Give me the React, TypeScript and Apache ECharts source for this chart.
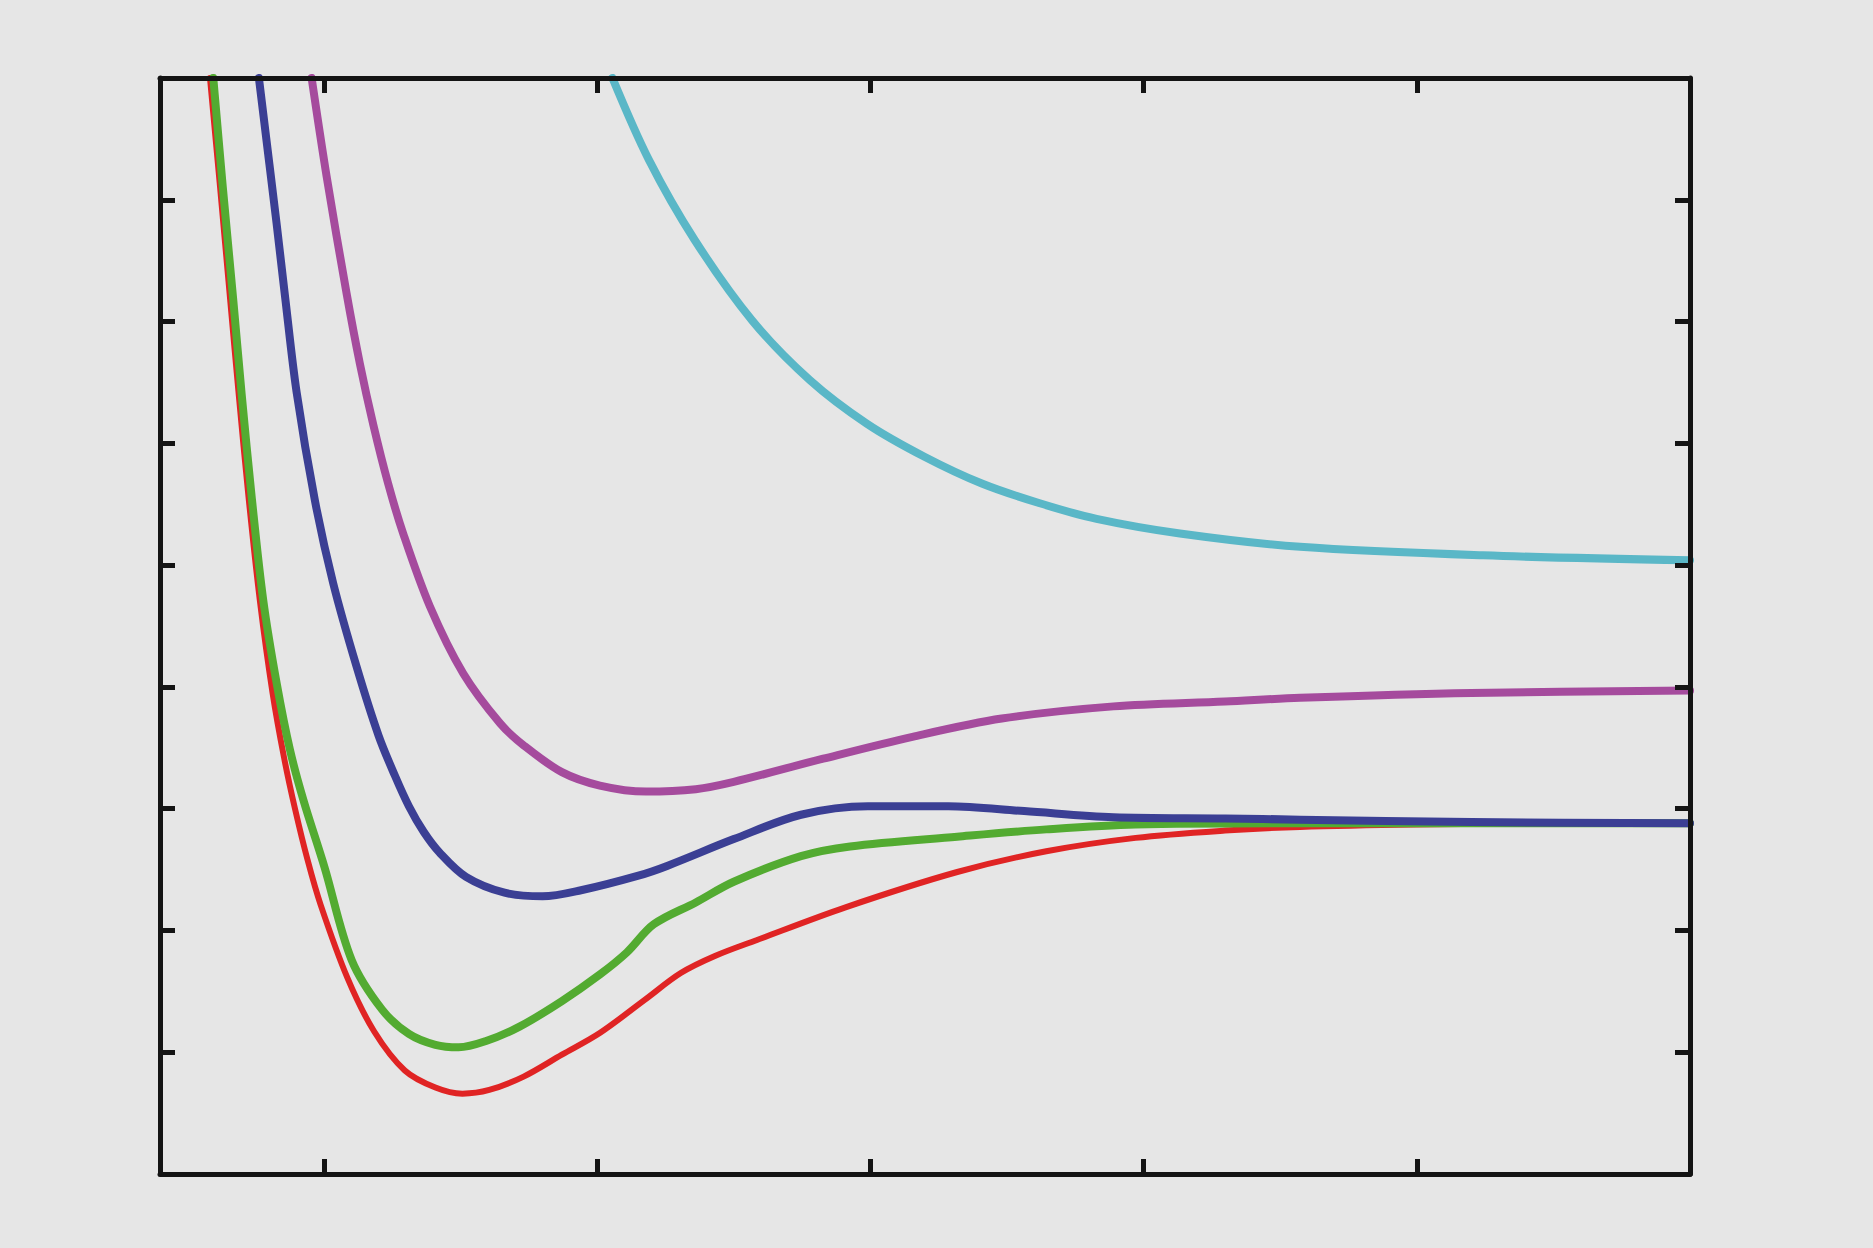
import React, { useEffect, useRef } from "react";
import * as echarts from "echarts";

const xTicks = [1, 2, 3, 4, 5];

const redCurve: number[][] = [
  [0.583, 9.0], [0.62, 8.1], [0.656, 7.2], [0.689, 6.38], [0.724, 5.56], [0.766, 4.7],
  [0.812, 3.95], [0.854, 3.42], [0.894, 3.0], [0.94, 2.58], [0.988, 2.21], [1.086, 1.61],
  [1.184, 1.17], [1.296, 0.85], [1.408, 0.71], [1.507, 0.66], [1.605, 0.69], [1.731, 0.8],
  [1.871, 0.98], [2.011, 1.16], [2.174, 1.43], [2.306, 1.65], [2.431, 1.79], [2.583, 1.92],
  [2.909, 2.19], [3.318, 2.48], [3.644, 2.65], [3.971, 2.76], [4.298, 2.82], [4.573, 2.85],
  [5.0, 2.87], [5.5, 2.88], [6.0, 2.88],
];

const greenCurve: number[][] = [
  [0.595, 9.0], [0.63, 8.1], [0.668, 7.18], [0.699, 6.4], [0.736, 5.55], [0.778, 4.71],
  [0.827, 4.03], [0.876, 3.48], [0.925, 3.07], [1.002, 2.52], [1.101, 1.76], [1.213, 1.35],
  [1.311, 1.15], [1.408, 1.06], [1.493, 1.04], [1.591, 1.09], [1.716, 1.21], [1.871, 1.42],
  [2.011, 1.64], [2.109, 1.82], [2.207, 2.05], [2.361, 2.23], [2.5, 2.4], [2.746, 2.61],
  [2.926, 2.69], [3.318, 2.77], [3.644, 2.83], [3.971, 2.87], [4.573, 2.88], [6.0, 2.88],
];

const blueCurve: number[][] = [
  [0.762, 9.0], [0.827, 7.8], [0.858, 7.2], [0.9, 6.42], [0.967, 5.53], [1.034, 4.85],
  [1.119, 4.17], [1.2, 3.6], [1.26, 3.27], [1.311, 3.02], [1.365, 2.81], [1.423, 2.64],
  [1.52, 2.44], [1.661, 2.31], [1.8, 2.28], [1.941, 2.33], [2.151, 2.45], [2.256, 2.53],
  [2.5, 2.75], [2.746, 2.95], [2.991, 3.02], [3.285, 3.02], [3.563, 2.98], [3.89, 2.93],
  [4.298, 2.92], [4.573, 2.91], [5.2, 2.89], [6.0, 2.88],
];

const magentaCurve: number[][] = [
  [0.955, 9.0], [1.01, 8.19], [1.083, 7.23], [1.132, 6.65], [1.181, 6.15], [1.235, 5.67],
  [1.29, 5.26], [1.388, 4.66], [1.51, 4.11], [1.645, 3.7], [1.731, 3.52], [1.871, 3.3],
  [2.01, 3.19], [2.179, 3.14], [2.361, 3.16], [2.5, 3.22], [2.827, 3.41], [3.154, 3.59],
  [3.481, 3.74], [3.89, 3.84], [4.298, 3.88], [4.573, 3.91], [5.2, 3.95], [6.0, 3.97],
];

const cyanCurve: number[][] = [
  [2.056, 9.0], [2.189, 8.33], [2.357, 7.67], [2.567, 7.01], [2.778, 6.52], [2.988, 6.16],
  [3.198, 5.89], [3.408, 5.67], [3.617, 5.51], [3.828, 5.38], [4.133, 5.26], [4.573, 5.15],
  [5.242, 5.08], [6.0, 5.04],
];

const AXIS_COLOR = "#141414";

function mkX(position: "top" | "bottom") {
  return {
    type: "value",
    position,
    min: 0.4,
    max: 6,
    z: 10,
    axisLine: { show: true, onZero: false, lineStyle: { color: AXIS_COLOR, width: 5 } },
    axisTick: {
      show: true,
      inside: true,
      length: 15,
      customValues: xTicks,
      lineStyle: { color: AXIS_COLOR, width: 5 },
    },
    axisLabel: { show: false },
    splitLine: { show: false },
  };
}

function mkY(position: "left" | "right") {
  return {
    type: "value",
    position,
    min: 0,
    max: 9,
    interval: 1,
    z: 10,
    axisLine: { show: true, onZero: false, lineStyle: { color: AXIS_COLOR, width: 5 } },
    axisTick: { show: true, inside: true, length: 15, lineStyle: { color: AXIS_COLOR, width: 5 } },
    axisLabel: { show: false },
    splitLine: { show: false },
  };
}

function mkLine(name: string, data: number[][], color: string, width: number) {
  return {
    name,
    type: "line",
    data,
    smooth: 0.33,
    showSymbol: false,
    symbol: "none",
    clip: true,
    lineStyle: { color, width, cap: "round", join: "round" },
    xAxisIndex: 0,
    yAxisIndex: 0,
  };
}

export default function App() {
  const ref = useRef<HTMLDivElement>(null);
  useEffect(() => {
    if (!ref.current) return;
    const chart = echarts.init(ref.current, undefined, { renderer: "svg" });
    chart.setOption({
      animation: false,
      backgroundColor: "#e6e6e6",
      grid: { left: 160, top: 78, right: 183, bottom: 74, containLabel: false },
      xAxis: [mkX("bottom"), mkX("top")],
      yAxis: [mkY("left"), mkY("right")],
      series: [
        mkLine("red", redCurve, "#e02424", 6),
        mkLine("green", greenCurve, "#53ab31", 8),
        mkLine("magenta", magentaCurve, "#a54b9d", 8),
        mkLine("blue", blueCurve, "#3b3f94", 8),
        mkLine("cyan", cyanCurve, "#5ab7c7", 8),
      ],
    });
    return () => chart.dispose();
  }, []);
  return (
    <div
      ref={ref}
      style={{ position: "fixed", left: 0, top: 0, width: 1873, height: 1248, background: "#e6e6e6" }}
    />
  );
}
